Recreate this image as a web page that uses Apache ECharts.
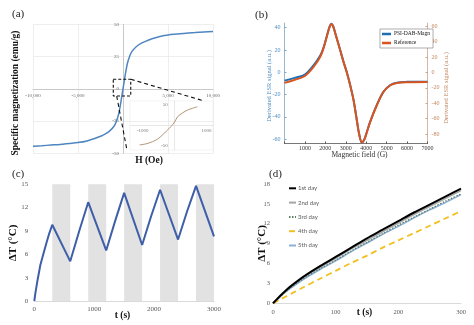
<!DOCTYPE html>
<html><head><meta charset="utf-8">
<script src="https://cdn.jsdelivr.net/npm/echarts@6/dist/echarts.min.js"></script>
<style>html,body{margin:0;padding:0;background:#fff}#c{width:474px;height:325px}</style>
</head><body><div id="c"></div>
<script>
// ---------- (a) magnetization ----------
const magH = [-10000,-9000,-8000,-7000,-6000,-5000,-4000,-3000,-2500,-2000,-1500,-1000,-750,-500,-300,-150,0,150,300,500,750,1000,1500,2000,2500,3000,4000,5000,6000,7000,8000,9000,10000];
const magM = [-44.5,-44.1,-43.6,-43.1,-42.4,-41.7,-40.4,-38.2,-36.8,-35.2,-32.8,-29,-25.5,-20,-13,-6.5,0,6.5,13,20,25.5,29,32.8,35.2,36.8,38.2,40.4,41.7,42.4,43.1,43.6,44.1,44.5];
const insetH = [-1100,-900,-690,-530,-380,-250,-120,0,90,250,400,550,710];
const insetM = [-47.5,-45,-39.5,-33,-23,-13,-3,9,21.5,31,37.8,42,45.9];
const zoomBoxH = [-1080,860,860,-1080,-1080];
const zoomBoxM = [7.4,7.4,-5.6,-5.6,7.4];
const leaderRH = [860,8750], leaderRM = [7.4,-8.9];
const leaderLH = [-700,410], leaderLM = [-5.6,-46.5];
// ---------- (b) ESR ----------
const fieldG = [0,500,1000,1430,1750,1917,2080,2200,2290,2380,2485,2730,2890,3050,3215,3380,3540,3650,3790,3900,3990,4195,4520,4850,5180,5500,6000,7000];
const esrSample = [-7.5,-5,-2,6.5,15,22.5,33,40.5,43.5,41.5,35,19.7,9.5,0,-11.4,-24.8,-42.8,-55,-63,-60.5,-56,-44.3,-29.3,-17.4,-11.4,-9.3,-8.6,-8.4];
const esrRef = [-13.5,-9.5,-4.5,7.5,20.5,32,47.5,58.5,63,60,51,28.5,13.5,0,-16.5,-36,-62,-79.5,-91,-87.5,-81,-64,-42.5,-25,-16.5,-13.5,-12.5,-12.2];
const leftTicks = [-60,-40,-20,0,20,40];
const rightTicks = [-80,-60,-40,-20,0,20,40,60];
// ---------- (c) cycling ----------
const cycT = [0,20,50,100,150,200,250,300,600,750,900,1200,1350,1500,1800,1950,2100,2400,2550,2700,3000];
const cycDT = [0,1.1,2.5,4.6,6.0,7.4,8.7,9.8,5.1,9.0,12.7,6.5,10.3,13.9,7.2,10.9,14.3,7.9,11.5,14.8,8.3];
const offBands = [[300,600],[900,1200],[1500,1800],[2100,2400],[2700,3000]];
// ---------- (d) days ----------
const dayT = [0,10,20,30,50,75,100,125,150,175,200,225,250,275,300];
const day1 = [0,1.0,1.9,2.7,4.1,5.6,7.0,8.4,9.8,11.1,12.4,13.7,14.9,16.1,17.3];
const day2 = [0,0.9,1.8,2.6,4.0,5.4,6.8,8.2,9.5,10.8,12.1,13.4,14.6,15.8,17.0];
const day3 = [0,0.9,1.7,2.5,3.8,5.2,6.5,7.9,9.2,10.5,11.8,13.0,14.2,15.4,16.5];
const day4 = [0,0.5,1.0,1.5,2.5,3.7,4.9,6.1,7.2,8.4,9.5,10.6,11.7,12.8,13.9];
const day5 = [0,0.9,1.7,2.4,3.7,5.1,6.4,7.8,9.1,10.4,11.6,12.9,14.1,15.2,16.4];
const dayNames = ['1st day','2nd day','3rd day','4th day','5th day'];

const zip = (a,b) => a.map((v,i)=>[v,b[i]]);
const SERIF = 'Liberation Serif';
const SANS = 'Lato';
const fmtK = v => v===0 ? '' : (v<0?'-':'') + Math.abs(v).toLocaleString('en-US');
const plain = v => String(v);

const chart = echarts.init(document.getElementById('c'), null, {renderer:'canvas'});
const ttl = (t,l,tp)=>({text:t,left:l,top:tp,padding:0,textStyle:{fontFamily:SERIF,fontSize:11,fontWeight:'normal',color:'#222'}});
const rotText = (t,x,y,fs,color,bold)=>({type:'text',x:x,y:y,rotation:Math.PI/2,style:{text:t,align:'center',verticalAlign:'middle',font:(bold?'bold ':'')+fs+'px "'+SERIF+'"',fill:color}});
const hText = (t,x,y,fs,color,bold)=>({type:'text',x:x,y:y,style:{text:t,align:'center',verticalAlign:'middle',font:(bold?'bold ':'')+fs+'px "'+SERIF+'"',fill:color}});

const option = {
  animation:false,
  backgroundColor:'#fff',
  title:[ttl('(a)',12,9),ttl('(b)',255,10),ttl('(c)',12,169),ttl('(d)',269,169)],
  graphic:[
    rotText('Specific magnetization (emu/g)',16,93,9.5,'#111',true),
    hText('H (Oe)',149,160.5,9.5,'#111',true),
    hText('Magnetic field (G)',359.5,155,7.5,'#333',false),
    rotText('Derivated ESR signal (a.u.)',269,86,6.5,'#4e8fc0',false),
    rotText('Derivated ESR signal (a.u.)',446,88,6.5,'#c3875f',false),
    hText('t (s)',122.5,315.5,9.5,'#111',true),
    rotText('ΔT (°C)',13.5,243,11,'#111',true),
    hText('t (s)',364.5,312.5,9.5,'#111',true),
    rotText('ΔT (°C)',262.5,243.5,11,'#111',true)
  ],
  legend:[
    {left:380,top:29,orient:'vertical',data:['PSI-DAB-Magn','Reference'],icon:'rect',itemWidth:9,itemHeight:2.5,itemGap:3,
     padding:[2,3,2,2],borderColor:'#777',borderWidth:0.6,backgroundColor:'#fff',
     textStyle:{fontFamily:SERIF,fontSize:5.5,color:'#111',padding:[0,0,0,-2]}},
    {left:288,top:185.3,padding:0,orient:'vertical',data:dayNames,itemWidth:7,itemHeight:6,itemGap:8.3,
     itemStyle:{opacity:0},
     textStyle:{fontFamily:SANS,fontSize:6,color:'#595959',padding:[0,0,0,-3]}}
  ],
  grid:[
    {left:33,top:24.3,width:180,height:129},
    {left:130,top:101,width:83,height:49,show:true,borderColor:'#ececec',borderWidth:0.6},
    {left:284.5,top:23,width:143,height:120.5},
    {left:34.3,top:184.3,width:179.7,height:116.7},
    {left:273,top:184,width:188,height:119.3}
  ],
  xAxis:[
    {gridIndex:0,type:'value',min:-10000,max:10000,interval:5000,offset:-64.5,
     axisLine:{onZero:false,lineStyle:{color:'#bfbfbf',width:0.8}},axisTick:{show:false},
     axisLabel:{formatter:fmtK,fontFamily:SERIF,fontSize:5,color:'#666',margin:4},
     splitLine:{show:true,lineStyle:{color:'#e6e6e6',width:0.7}}},
    {gridIndex:1,type:'value',min:-1400,max:1200,interval:200,offset:-24.5,
     axisLine:{onZero:false,lineStyle:{color:'#d9d9d9',width:0.6}},axisTick:{show:false},
     axisLabel:{formatter:v=>(v===-1000||v===1000)?String(v):'',fontFamily:SERIF,fontSize:5,color:'#777',margin:3},
     splitLine:{show:false}},
    {gridIndex:2,type:'value',min:0,max:7000,interval:1000,
     axisLine:{onZero:false,lineStyle:{color:'#555',width:0.8}},axisTick:{inside:true,length:2,lineStyle:{color:'#555'}},
     axisLabel:{formatter:v=>v===0?'':String(v),fontFamily:SERIF,fontSize:6,color:'#333',margin:2},
     splitLine:{show:false}},
    {gridIndex:3,type:'value',min:0,max:3000,interval:1000,
     axisLine:{onZero:false,lineStyle:{color:'#d0d0d0',width:0.8}},axisTick:{show:false},
     axisLabel:{formatter:plain,fontFamily:SERIF,fontSize:7,color:'#595959',margin:5},
     splitLine:{show:false}},
    {gridIndex:4,type:'value',min:0,max:300,interval:100,
     axisLine:{onZero:false,lineStyle:{color:'#d0d0d0',width:0.8}},axisTick:{show:false},
     axisLabel:{formatter:plain,fontFamily:SERIF,fontSize:6.5,color:'#595959',margin:5},
     splitLine:{show:false}}
  ],
  yAxis:[
    {gridIndex:0,type:'value',min:-50,max:50,interval:25,offset:-90,
     axisLine:{onZero:false,lineStyle:{color:'#bfbfbf',width:0.8}},axisTick:{show:false},
     axisLabel:{formatter:plain,fontFamily:SERIF,fontSize:5,color:'#666',margin:4},
     splitLine:{show:true,lineStyle:{color:'#e6e6e6',width:0.7}}},
    {gridIndex:1,type:'value',min:-60,max:60,interval:10,offset:-43.8,
     axisLine:{onZero:false,lineStyle:{color:'#d9d9d9',width:0.6}},axisTick:{show:false},
     axisLabel:{formatter:v=>(v===-50||v===50)?String(v):'',fontFamily:SERIF,fontSize:5,color:'#777',margin:6},
     splitLine:{show:false}},
    {gridIndex:2,type:'value',position:'left',min:-63.9,max:44.2,
     axisLine:{show:true,onZero:false,lineStyle:{color:'#7fa6c4',width:0.8}},
     axisTick:{show:true,inside:true,length:2,customValues:leftTicks,lineStyle:{color:'#7fa6c4'}},
     axisLabel:{customValues:leftTicks,formatter:plain,fontFamily:SERIF,fontSize:6,color:'#4e8fc0',margin:4},
     splitLine:{show:false}},
    {gridIndex:2,type:'value',position:'right',min:-92.2,max:64.3,
     axisLine:{show:true,onZero:false,lineStyle:{color:'#c9a58a',width:0.8}},
     axisTick:{show:true,inside:true,length:2,customValues:rightTicks,lineStyle:{color:'#c9a58a'}},
     axisLabel:{customValues:rightTicks,formatter:plain,fontFamily:SERIF,fontSize:6,color:'#c3875f',margin:4},
     splitLine:{show:false}},
    {gridIndex:3,type:'value',min:0,max:15,interval:3,
     axisLine:{show:false},axisTick:{show:false},
     axisLabel:{formatter:plain,fontFamily:SERIF,fontSize:7,color:'#595959',margin:6},
     splitLine:{show:false}},
    {gridIndex:4,type:'value',min:0,max:18,interval:3,
     axisLine:{show:false},axisTick:{show:false},
     axisLabel:{formatter:plain,fontFamily:SERIF,fontSize:6.5,color:'#595959',margin:3},
     splitLine:{show:false}}
  ],
  series:[
    {type:'line',xAxisIndex:0,yAxisIndex:0,data:zip(magH,magM),smooth:0.3,showSymbol:false,symbol:'none',
     lineStyle:{color:'#4f86c0',width:1.5}},
    {type:'line',xAxisIndex:0,yAxisIndex:0,data:zip(zoomBoxH,zoomBoxM),showSymbol:false,symbol:'none',
     lineStyle:{color:'#111',width:1.1,type:[3,2]}},
    {type:'line',xAxisIndex:0,yAxisIndex:0,data:zip(leaderRH,leaderRM),showSymbol:false,symbol:'none',
     lineStyle:{color:'#111',width:1.1,type:[4,3]}},
    {type:'line',xAxisIndex:0,yAxisIndex:0,data:zip(leaderLH,leaderLM),showSymbol:false,symbol:'none',
     lineStyle:{color:'#111',width:1.1,type:[4,3]}},
    {type:'line',xAxisIndex:1,yAxisIndex:1,data:zip(insetH,insetM),smooth:0.3,showSymbol:false,symbol:'none',
     lineStyle:{color:'#b49474',width:1}},
    {name:'PSI-DAB-Magn',type:'line',xAxisIndex:2,yAxisIndex:2,data:zip(fieldG,esrSample),smooth:0.35,showSymbol:false,symbol:'none',
     itemStyle:{color:'#1f6db3'},lineStyle:{color:'#1f6db3',width:2}},
    {name:'Reference',type:'line',xAxisIndex:2,yAxisIndex:3,data:zip(fieldG,esrRef),smooth:0.35,showSymbol:false,symbol:'none',
     itemStyle:{color:'#d9541e'},lineStyle:{color:'#d9541e',width:2}},
    {type:'line',xAxisIndex:3,yAxisIndex:4,data:zip(cycT,cycDT),smooth:false,showSymbol:false,symbol:'none',
     lineStyle:{color:'#3f5ea8',width:2},z:3,
     markArea:{silent:true,itemStyle:{color:'#e2e2e2'},data:offBands.map(b=>[{xAxis:b[0],yAxis:0},{xAxis:b[1],yAxis:15}])}},
    {name:'1st day',type:'line',xAxisIndex:4,yAxisIndex:5,data:zip(dayT,day1),smooth:0.3,showSymbol:false,symbol:'none',
     itemStyle:{color:'#000'},lineStyle:{color:'#000',width:2},z:6},
    {name:'2nd day',type:'line',xAxisIndex:4,yAxisIndex:5,data:zip(dayT,day2),smooth:0.3,showSymbol:false,symbol:'none',
     itemStyle:{color:'#a5a5a5'},lineStyle:{color:'#a5a5a5',width:1.5},z:5},
    {name:'3rd day',type:'line',xAxisIndex:4,yAxisIndex:5,data:zip(dayT,day3),smooth:0.3,showSymbol:false,symbol:'none',
     itemStyle:{color:'#5b7f65'},lineStyle:{color:'#5b7f65',width:1.3,type:[1.5,1.5]},z:5},
    {name:'4th day',type:'line',xAxisIndex:4,yAxisIndex:5,data:zip(dayT,day4),smooth:0.3,showSymbol:false,symbol:'none',
     itemStyle:{color:'#f0c020'},lineStyle:{color:'#f0c020',width:1.8,type:[6,4]},z:5},
    {name:'5th day',type:'line',xAxisIndex:4,yAxisIndex:5,data:zip(dayT,day5),smooth:0.3,showSymbol:false,symbol:'none',
     itemStyle:{color:'#8bb0d8'},lineStyle:{color:'#8bb0d8',width:1.5},z:4}
  ]
};
chart.setOption(option);
</script></body></html>
